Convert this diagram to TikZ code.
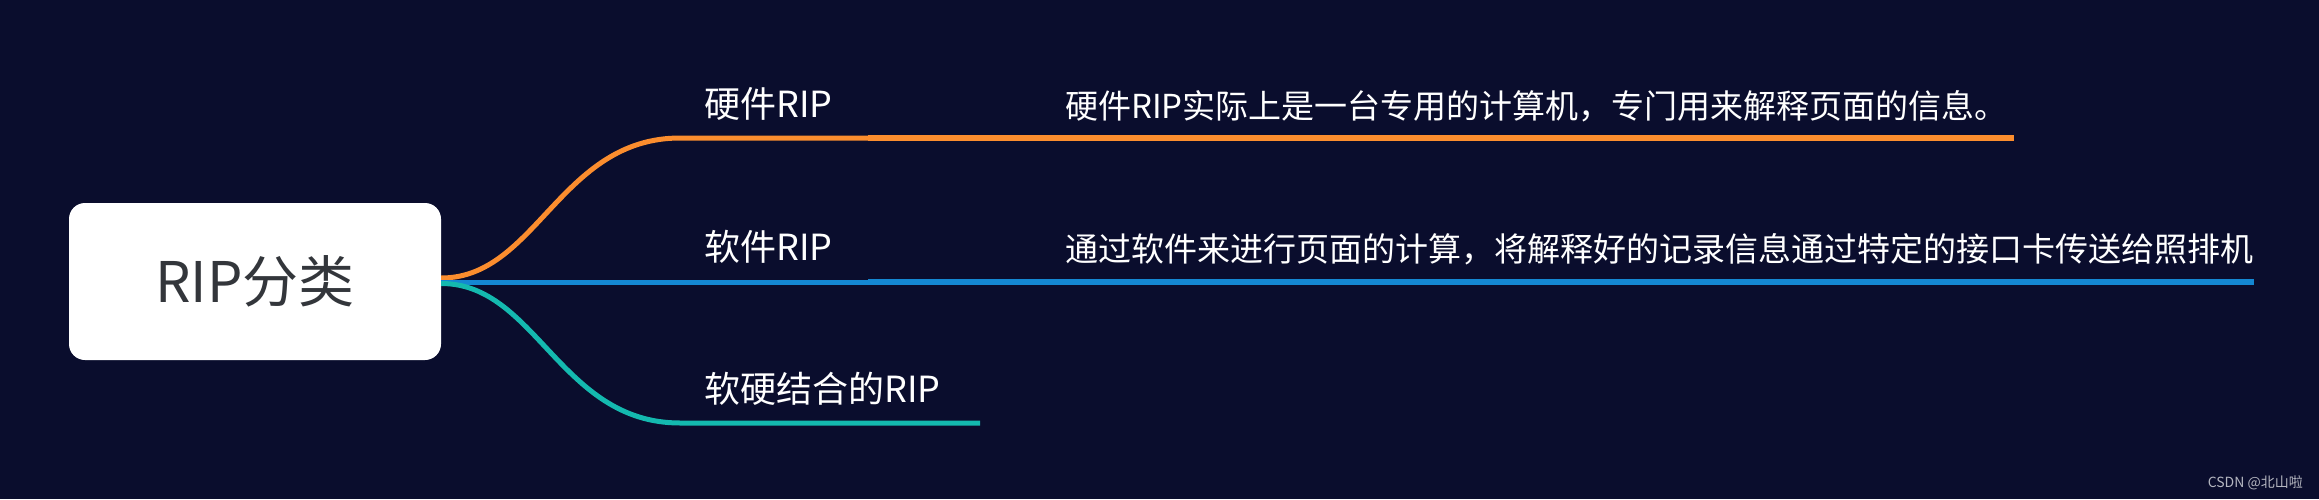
\documentclass[tikz,border=0pt]{standalone}
\usepackage{fontspec}
\newfontfamily\cjk{Noto Sans CJK SC}
\definecolor{bg}{HTML}{0A0D2D}
\definecolor{orangeC}{HTML}{FB8D2E}
\definecolor{blueC}{HTML}{1487D2}
\definecolor{tealC}{HTML}{14B9AF}
\definecolor{roottext}{HTML}{33363B}
\definecolor{wm}{HTML}{B4B6C0}
\tikzset{
  rootbox/.style={fill=white, rounded corners=16pt, minimum width=372pt, minimum height=157pt, inner sep=0pt,
    text=roottext, font=\cjk\fontsize{56}{60}\selectfont},
  lbl/.style={inner sep=0pt, text=white, font=\cjk\fontsize{36}{40}\selectfont},
  desc/.style={inner sep=0pt, text=white, font=\cjk\fontsize{33}{38}\selectfont},
  branch/.style={line width=5pt, line cap=butt},
  under/.style={line width=6.5pt, line cap=butt},
}
\begin{document}
\begin{tikzpicture}[x=1pt,y=-1pt]
\fill[bg] (0,0) rectangle (2319,499);
\useasboundingbox (0,0) rectangle (2319,499);

\node[rootbox] (root) at (255,281.5) {RIP分类};

% labels
\node[lbl, anchor=base west] (l1) at (704,117) {硬件RIP};
\node[lbl, anchor=base west] (l2) at (704,260) {软件RIP};
\node[lbl, anchor=base west] (l3) at (704,402) {软硬结合的RIP};

% descriptions
\node[desc, anchor=base west] (d1) at (1065,118) {硬件RIP实际上是一台专用的计算机，专门用来解释页面的信息。};
\node[desc, anchor=base west] (d2) at (1065,261) {通过软件来进行页面的计算，将解释好的记录信息通过特定的接口卡传送给照排机};

% coordinates
\coordinate (c1) at (680,138);
\coordinate (j1) at (868,138);
\coordinate (e1) at (2014,138);
\coordinate (j2) at (868,282);
\coordinate (e2) at (2254,282);
\coordinate (c3) at (680,423);
\coordinate (e3) at (980,423);

% branches
\draw[branch, orangeC] ([yshift=3.5pt]root.east) .. controls +(95,0) and +(-120,0) .. (c1) -- (j1);
\draw[under, orangeC] (j1) -- (e1);
\draw[branch, blueC] ([yshift=-0.5pt]root.east) -- (j2);
\draw[under, blueC] (j2) -- (e2);
\draw[branch, tealC] ([yshift=-2pt]root.east) .. controls +(95,0) and +(-120,0) .. (c3) -- (e3);

% watermark
\node[inner sep=0pt, anchor=base east, text=wm, font=\cjk\fontsize{14}{16}\selectfont] (wm) at (2303,487) {CSDN @北山啦};
\end{tikzpicture}
\end{document}
